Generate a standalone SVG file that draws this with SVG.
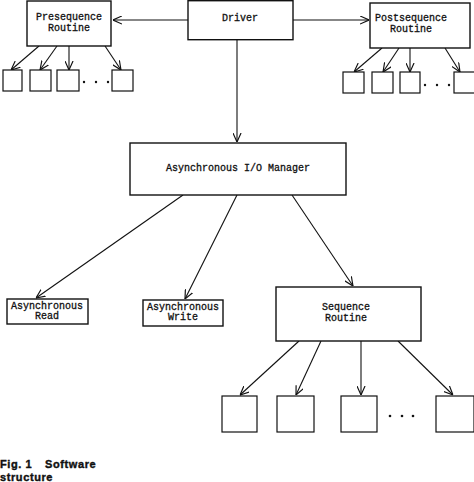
<svg xmlns="http://www.w3.org/2000/svg" width="474" height="482" viewBox="0 0 474 482">
<style>
.box{fill:#fff;stroke:#111;stroke-width:1.4}
.sq{fill:#fff;stroke:#111;stroke-width:1.2}
.t{font-family:"Liberation Mono","DejaVu Sans Mono",monospace;font-size:10px;fill:#111;stroke:#111;stroke-width:0.3;text-anchor:middle}
.c{stroke:#111;stroke-width:1.1;fill:none;marker-end:url(#ah)}
.cap{font-family:"Liberation Sans",Arial,sans-serif;font-weight:bold;font-size:11px;letter-spacing:0.6px;fill:#111;stroke:#111;stroke-width:0.4}
.dot{fill:#111}
</style>
<defs>
<marker id="ah" viewBox="0 0 10 10" refX="10" refY="5" markerWidth="9" markerHeight="9" markerUnits="userSpaceOnUse" orient="auto">
<path d="M0,0.5 L10,5 L0,9.5" fill="none" stroke="#111" stroke-width="1.3"/>
</marker>
</defs>
<g id="connectors">
<line class="c" x1="188" y1="20" x2="113" y2="20"/>
<line class="c" x1="293" y1="20" x2="369" y2="20"/>
<line class="c" x1="237" y1="40" x2="237" y2="142"/>
<line class="c" x1="39" y1="46" x2="11" y2="70"/>
<line class="c" x1="57" y1="46" x2="40" y2="70"/>
<line class="c" x1="69" y1="46" x2="69" y2="70"/>
<line class="c" x1="105" y1="46" x2="121" y2="70"/>
<line class="c" x1="382" y1="48" x2="354" y2="72"/>
<line class="c" x1="399" y1="48" x2="383" y2="72"/>
<line class="c" x1="410" y1="48" x2="410" y2="72"/>
<line class="c" x1="445" y1="48" x2="460" y2="72"/>
<line class="c" x1="183" y1="195" x2="36" y2="298"/>
<line class="c" x1="237" y1="195" x2="185" y2="299"/>
<line class="c" x1="292" y1="195" x2="353" y2="286"/>
<line class="c" x1="299" y1="341" x2="240" y2="395"/>
<line class="c" x1="321" y1="341" x2="296" y2="395"/>
<line class="c" x1="361" y1="341" x2="361" y2="395"/>
<line class="c" x1="398" y1="341" x2="453" y2="395"/>
</g>
<g id="presequence">
<rect class="box" x="27" y="1" width="84" height="45"/>
<text class="t" x="69" y="20">Presequence</text>
<text class="t" x="69" y="31">Routine</text>
</g>
<g id="driver">
<rect class="box" x="188" y="0.7" width="105" height="39"/>
<text class="t" x="240" y="21">Driver</text>
</g>
<g id="postsequence">
<rect class="box" x="370" y="3" width="100" height="45"/>
<text class="t" x="411" y="21">Postsequence</text>
<text class="t" x="411" y="32">Routine</text>
</g>
<g id="pre-sub">
<rect class="sq" x="3" y="70" width="19" height="21"/>
<rect class="sq" x="30" y="70" width="21" height="21"/>
<rect class="sq" x="57" y="70" width="22" height="21"/>
<circle class="dot" cx="84" cy="82" r="1.2"/>
<circle class="dot" cx="96" cy="82" r="1.2"/>
<circle class="dot" cx="108" cy="82" r="1.2"/>
<rect class="sq" x="112" y="70" width="21" height="21"/>
</g>
<g id="post-sub">
<rect class="sq" x="343" y="72" width="21" height="21"/>
<rect class="sq" x="372" y="72" width="21" height="21"/>
<rect class="sq" x="400" y="72" width="20" height="21"/>
<circle class="dot" cx="425" cy="85" r="1.2"/>
<circle class="dot" cx="437" cy="85" r="1.2"/>
<circle class="dot" cx="449" cy="85" r="1.2"/>
<rect class="sq" x="454" y="72" width="22" height="21"/>
</g>
<g id="manager">
<rect class="box" x="130" y="143" width="216" height="52"/>
<text class="t" x="238" y="171">Asynchronous I/O Manager</text>
</g>
<g id="read">
<rect class="box" x="7" y="299" width="81" height="25"/>
<text class="t" x="47" y="309">Asynchronous</text>
<text class="t" x="47" y="319">Read</text>
</g>
<g id="write">
<rect class="box" x="143" y="300" width="80" height="26"/>
<text class="t" x="183" y="310">Asynchronous</text>
<text class="t" x="183" y="320">Write</text>
</g>
<g id="sequence">
<rect class="box" x="276" y="287" width="145" height="54"/>
<text class="t" x="346" y="310">Sequence</text>
<text class="t" x="346" y="321">Routine</text>
</g>
<g id="seq-sub">
<rect class="sq" x="222" y="396" width="35" height="36"/>
<rect class="sq" x="277" y="396" width="37" height="36"/>
<rect class="sq" x="341" y="396" width="36" height="36"/>
<circle class="dot" cx="390" cy="416" r="1.3"/>
<circle class="dot" cx="402" cy="416" r="1.3"/>
<circle class="dot" cx="413" cy="416" r="1.3"/>
<rect class="sq" x="436" y="396" width="38" height="36"/>
</g>
<g id="caption">
<text class="cap" x="0" y="468">Fig. 1<tspan x="45">Software</tspan></text>
<text class="cap" x="0" y="481">structure</text>
</g>
</svg>
